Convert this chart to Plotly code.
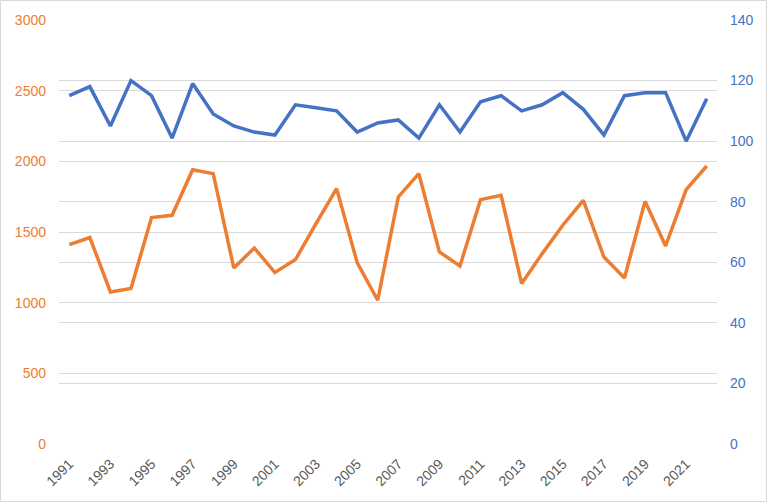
import plotly.graph_objects as go

years = list(range(1991, 2023))
orange_values = [1411, 1461, 1076, 1100, 1602, 1618, 1941, 1913, 1246, 1387, 1213,
                 1305, 1559, 1807, 1284, 1017, 1748, 1913, 1359, 1260, 1729, 1760,
                 1135, 1347, 1548, 1724, 1323, 1175, 1717, 1401, 1800, 1967]
blue_values = [115, 118, 105, 120, 115, 101, 119, 109, 105, 103, 102,
               112, 111, 110, 103, 106, 107, 101, 112, 103, 113, 115,
               110, 112, 116, 110.5, 102, 115, 116, 116, 100, 114]
x_tick_labels = [str(y) for y in range(1991, 2022, 2)]

ORANGE = "#ED7D31"
BLUE = "#4472C4"
GRID = "#D9D9D9"
FONT = "Liberation Sans"

fig = go.Figure()
fig.add_trace(go.Scatter(x=years, y=orange_values, mode="lines",
                         line=dict(color=ORANGE, width=3.5), yaxis="y", showlegend=False))
fig.add_trace(go.Scatter(x=years, y=blue_values, mode="lines",
                         line=dict(color=BLUE, width=3.5), yaxis="y2", showlegend=False))

W, H = 768, 503
L, R, T, B = 59, 51, 20, 59
pw, ph = W - L - R, H - T - B

fig.update_layout(
    width=W, height=H,
    margin=dict(l=L, r=R, t=T, b=B),
    paper_bgcolor="white", plot_bgcolor="white",
    font=dict(family=FONT, size=14),
    xaxis=dict(range=[1990.5, 2022.5], tickmode="array",
               tickvals=[int(t) for t in x_tick_labels], ticktext=x_tick_labels,
               tickangle=-45, showgrid=False, zeroline=False, showline=False,
               tickfont=dict(color="#595959", size=14, family=FONT), ticks="",
               ticklabelstandoff=8),
    yaxis=dict(range=[0, 3000], dtick=500, showgrid=True, gridcolor=GRID, gridwidth=1,
               zeroline=False, showline=False, ticks="", ticklabelstandoff=12,
               tickfont=dict(color=ORANGE, size=14, family=FONT)),
    yaxis2=dict(range=[0, 140], dtick=20, overlaying="y", side="right",
                showgrid=True, gridcolor=GRID, gridwidth=1, zeroline=False,
                showline=False, ticks="", ticklabelstandoff=12,
                tickfont=dict(color=BLUE, size=14, family=FONT)),
    shapes=[dict(type="rect", xref="paper", yref="paper",
                 x0=-(L - 0.5) / pw, x1=1 + (R - 1.5) / pw,
                 y0=-(B - 1.5) / ph, y1=1 + (T - 0.5) / ph,
                 line=dict(color=GRID, width=1), layer="below")],
)

fig.write_html("out.html")
